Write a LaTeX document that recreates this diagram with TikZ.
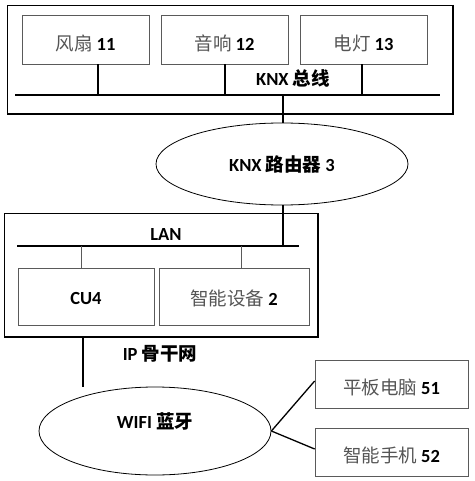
\documentclass[tikz,border=0pt]{standalone}
\usepackage{fontspec}
\setmainfont{Carlito}
\newfontfamily\cjk{Noto Sans CJK SC}
\usetikzlibrary{shapes.geometric}
\definecolor{txtgray}{RGB}{85,85,85}
\definecolor{boxgray}{RGB}{90,90,90}
\tikzset{
  devbox/.style={draw=boxgray,line width=0.7pt,inner sep=0pt},
  bus/.style={line width=2.4pt},
  thinlink/.style={line width=0.7pt,draw=boxgray},
  thicklink/.style={line width=2pt},
  lbl/.style={font=\fontsize{18.5}{20}\selectfont\bfseries,inner sep=0pt},
  dlbl/.style={font=\fontsize{18.5}{20}\selectfont,inner sep=0pt},
  oval/.style={ellipse,draw,line width=0.8pt,inner sep=0pt}
}
\newcommand{\dz}[2]{{\color{txtgray}\cjk #1} {\bfseries #2}}
\begin{document}
\begin{tikzpicture}[x=1pt,y=-1pt]
\useasboundingbox (0,0) rectangle (474,481);
% top outer box
\draw[line width=0.9pt] (7,5) rectangle (453,114);
\draw[line width=1.6pt] (453,5) -- (453,114) -- (7,114);
% devices
\node[devbox,minimum width=127pt,minimum height=49pt] (fan) at (85.5,39.5) {};
\node[dlbl] at ([yshift=-4pt]fan.center) {\dz{风扇}{11}};
\node[devbox,minimum width=127pt,minimum height=49pt] (spk) at (224.5,39.5) {};
\node[dlbl] at ([yshift=-4pt]spk.center) {\dz{音响}{12}};
\node[devbox,minimum width=127pt,minimum height=49pt] (lamp) at (363.5,39.5) {};
\node[dlbl] at ([yshift=-4pt]lamp.center) {\dz{电灯}{13}};
% KNX bus
\coordinate (kbl) at (15,95);
\coordinate (kbr) at (440,95);
\draw[bus] (kbl) -- (kbr);
\coordinate (k1) at (98,95);
\coordinate (k2) at (225,95);
\coordinate (k3) at (362,95);
\coordinate (k4) at (283,95);
\draw[bus] (fan.south -| k1) -- (k1);
\draw[bus] (spk.south -| k2) -- (k2);
\draw[bus] (lamp.south -| k3) -- (k3);
\node[lbl] (knxlbl) at (293,78) {KNX {\cjk 总线}};
% KNX router
\node[oval,minimum width=252pt,minimum height=82pt] (router) at (282,164) {};
\node[lbl] at (router) {KNX {\cjk 路由器} 3};
\draw[thicklink] (k4) -- (router.north -| k4);
% bottom LAN box
\draw[line width=0.9pt] (4,213) rectangle (318,337);
\draw[line width=1.4pt] (318,213) -- (318,337) -- (4,337);
\coordinate (lbl2) at (17,246);
\coordinate (lbr) at (299,246);
\draw[bus] (lbl2) -- (lbr);
\coordinate (l0) at (283,246);
\draw[thicklink] (router.south -| l0) -- (l0);
\node[lbl] (lanlbl) at (166,235) {LAN};
\node[devbox,minimum width=136pt,minimum height=57pt] (cu) at (86,296.5) {};
\node[lbl] at ([yshift=-1.5pt]cu.center) {CU4};
\node[devbox,minimum width=150pt,minimum height=57pt] (smart) at (234,296.5) {};
\node[dlbl] at ([yshift=-1.5pt]smart.center) {\dz{智能设备}{2}};
\coordinate (l1) at (81,246);
\coordinate (l2) at (241,246);
\draw[thinlink] (l1) -- (cu.north -| l1);
\draw[thinlink] (l2) -- (smart.north -| l2);
% IP backbone
\node[oval,minimum width=232pt,minimum height=88pt] (wifi) at (155,431) {};
\node[lbl] at ([yshift=10pt]wifi.center) {WIFI {\cjk 蓝牙}};
\coordinate (ip) at (83,337);
\draw[thicklink] (ip) -- (wifi.north -| ip);
\node[lbl] (iplbl) at (160,354) {IP {\cjk 骨干网}};
% terminals
\node[devbox,minimum width=153pt,minimum height=48pt] (tab) at (391.5,384) {};
\node[dlbl] at ([yshift=-4pt]tab.center) {\dz{平板电脑}{51}};
\node[devbox,minimum width=153pt,minimum height=48pt] (phone) at (391.5,452) {};
\node[dlbl] at ([yshift=-3pt]phone.center) {\dz{智能手机}{52}};
\draw[line width=1.3pt] (wifi.east) -- ([yshift=3pt]tab.west);
\draw[line width=1.3pt] (wifi.east) -- ([yshift=3pt]phone.west);
\end{tikzpicture}
\end{document}
